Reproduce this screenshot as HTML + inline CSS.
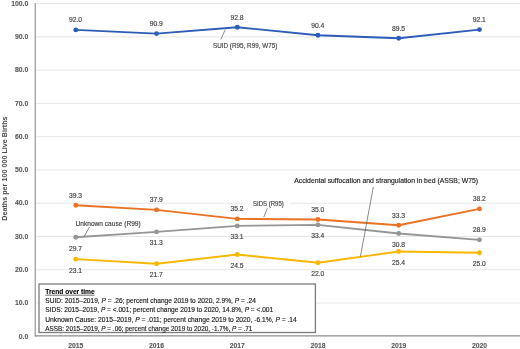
<!DOCTYPE html><html><head><meta charset="utf-8"><style>html,body{margin:0;padding:0;background:#fff;}svg{display:block;will-change:transform}text{font-family:"Liberation Sans",sans-serif}</style></head><body>
<svg width="520" height="349" viewBox="0 0 520 349">
<line x1="36.5" y1="303.03" x2="520" y2="303.03" stroke="#E3E3E3" stroke-width="0.9"/>
<line x1="36.5" y1="269.76" x2="520" y2="269.76" stroke="#E3E3E3" stroke-width="0.9"/>
<line x1="36.5" y1="236.49" x2="520" y2="236.49" stroke="#E3E3E3" stroke-width="0.9"/>
<line x1="36.5" y1="203.22" x2="520" y2="203.22" stroke="#E3E3E3" stroke-width="0.9"/>
<line x1="36.5" y1="169.95" x2="520" y2="169.95" stroke="#E3E3E3" stroke-width="0.9"/>
<line x1="36.5" y1="136.68" x2="520" y2="136.68" stroke="#E3E3E3" stroke-width="0.9"/>
<line x1="36.5" y1="103.41" x2="520" y2="103.41" stroke="#E3E3E3" stroke-width="0.9"/>
<line x1="36.5" y1="70.14" x2="520" y2="70.14" stroke="#E3E3E3" stroke-width="0.9"/>
<line x1="36.5" y1="36.87" x2="520" y2="36.87" stroke="#E3E3E3" stroke-width="0.9"/>
<line x1="36.5" y1="3.60" x2="520" y2="3.60" stroke="#E3E3E3" stroke-width="0.9"/>
<text x="28.3" y="338.50" text-anchor="end" font-size="6.8" font-weight="bold" fill="#595959" stroke="#595959" stroke-width="0.12">0.0</text>
<text x="28.3" y="305.23" text-anchor="end" font-size="6.8" font-weight="bold" fill="#595959" stroke="#595959" stroke-width="0.12">10.0</text>
<text x="28.3" y="271.96" text-anchor="end" font-size="6.8" font-weight="bold" fill="#595959" stroke="#595959" stroke-width="0.12">20.0</text>
<text x="28.3" y="238.69" text-anchor="end" font-size="6.8" font-weight="bold" fill="#595959" stroke="#595959" stroke-width="0.12">30.0</text>
<text x="28.3" y="205.42" text-anchor="end" font-size="6.8" font-weight="bold" fill="#595959" stroke="#595959" stroke-width="0.12">40.0</text>
<text x="28.3" y="172.15" text-anchor="end" font-size="6.8" font-weight="bold" fill="#595959" stroke="#595959" stroke-width="0.12">50.0</text>
<text x="28.3" y="138.88" text-anchor="end" font-size="6.8" font-weight="bold" fill="#595959" stroke="#595959" stroke-width="0.12">60.0</text>
<text x="28.3" y="105.61" text-anchor="end" font-size="6.8" font-weight="bold" fill="#595959" stroke="#595959" stroke-width="0.12">70.0</text>
<text x="28.3" y="72.34" text-anchor="end" font-size="6.8" font-weight="bold" fill="#595959" stroke="#595959" stroke-width="0.12">80.0</text>
<text x="28.3" y="39.07" text-anchor="end" font-size="6.8" font-weight="bold" fill="#595959" stroke="#595959" stroke-width="0.12">90.0</text>
<text x="28.3" y="5.80" text-anchor="end" font-size="6.8" font-weight="bold" fill="#595959" stroke="#595959" stroke-width="0.12">100.0</text>
<line x1="35.2" y1="3" x2="35.2" y2="336.5" stroke="#8C8C8C" stroke-width="1.1"/>
<line x1="35" y1="335.9" x2="520" y2="335.9" stroke="#8C8C8C" stroke-width="1.4"/>
<text x="75.77" y="348" text-anchor="middle" font-size="6.8" font-weight="bold" fill="#595959" stroke="#595959" stroke-width="0.12">2015</text>
<text x="156.51" y="348" text-anchor="middle" font-size="6.8" font-weight="bold" fill="#595959" stroke="#595959" stroke-width="0.12">2016</text>
<text x="237.25" y="348" text-anchor="middle" font-size="6.8" font-weight="bold" fill="#595959" stroke="#595959" stroke-width="0.12">2017</text>
<text x="317.99" y="348" text-anchor="middle" font-size="6.8" font-weight="bold" fill="#595959" stroke="#595959" stroke-width="0.12">2018</text>
<text x="398.73" y="348" text-anchor="middle" font-size="6.8" font-weight="bold" fill="#595959" stroke="#595959" stroke-width="0.12">2019</text>
<text x="479.47" y="348" text-anchor="middle" font-size="6.8" font-weight="bold" fill="#595959" stroke="#595959" stroke-width="0.12">2020</text>
<text transform="translate(6.8,168.6) rotate(-90)" text-anchor="middle" font-size="8.1" font-weight="bold" fill="#4A4A4A" textLength="104.4" lengthAdjust="spacingAndGlyphs">Deaths per 100 000 Live Births</text>
<rect x="39" y="284" width="276.4" height="48.5" fill="#fff" stroke="#7A7A7A" stroke-width="1.3"/>
<polyline points="75.77,29.92 156.51,33.58 237.25,27.25 317.99,35.24 398.73,38.23 479.47,29.58" fill="none" stroke="#2D5CBA" stroke-width="1.9" stroke-linejoin="round"/>
<circle cx="75.77" cy="29.92" r="2.45" fill="#2D5CBA"/>
<circle cx="156.51" cy="33.58" r="2.45" fill="#2D5CBA"/>
<circle cx="237.25" cy="27.25" r="2.45" fill="#2D5CBA"/>
<circle cx="317.99" cy="35.24" r="2.45" fill="#2D5CBA"/>
<circle cx="398.73" cy="38.23" r="2.45" fill="#2D5CBA"/>
<circle cx="479.47" cy="29.58" r="2.45" fill="#2D5CBA"/>
<polyline points="75.77,205.25 156.51,209.91 237.25,218.89 317.99,219.56 398.73,225.21 479.47,208.91" fill="none" stroke="#EC7122" stroke-width="1.9" stroke-linejoin="round"/>
<circle cx="75.77" cy="205.25" r="2.45" fill="#EC7122"/>
<circle cx="156.51" cy="209.91" r="2.45" fill="#EC7122"/>
<circle cx="237.25" cy="218.89" r="2.45" fill="#EC7122"/>
<circle cx="317.99" cy="219.56" r="2.45" fill="#EC7122"/>
<circle cx="398.73" cy="225.21" r="2.45" fill="#EC7122"/>
<circle cx="479.47" cy="208.91" r="2.45" fill="#EC7122"/>
<polyline points="75.77,237.19 156.51,231.86 237.25,225.88 317.99,224.88 398.73,233.53 479.47,239.85" fill="none" stroke="#969696" stroke-width="1.9" stroke-linejoin="round"/>
<circle cx="75.77" cy="237.19" r="2.45" fill="#969696"/>
<circle cx="156.51" cy="231.86" r="2.45" fill="#969696"/>
<circle cx="237.25" cy="225.88" r="2.45" fill="#969696"/>
<circle cx="317.99" cy="224.88" r="2.45" fill="#969696"/>
<circle cx="398.73" cy="233.53" r="2.45" fill="#969696"/>
<circle cx="479.47" cy="239.85" r="2.45" fill="#969696"/>
<polyline points="75.77,259.15 156.51,263.80 237.25,254.49 317.99,262.81 398.73,251.49 479.47,252.82" fill="none" stroke="#F8B700" stroke-width="1.9" stroke-linejoin="round"/>
<circle cx="75.77" cy="259.15" r="2.45" fill="#F8B700"/>
<circle cx="156.51" cy="263.80" r="2.45" fill="#F8B700"/>
<circle cx="237.25" cy="254.49" r="2.45" fill="#F8B700"/>
<circle cx="317.99" cy="262.81" r="2.45" fill="#F8B700"/>
<circle cx="398.73" cy="251.49" r="2.45" fill="#F8B700"/>
<circle cx="479.47" cy="252.82" r="2.45" fill="#F8B700"/>
<text x="75.57" y="22.42" text-anchor="middle" font-size="6.75" fill="#404040" stroke="#404040" stroke-width="0.15">92.0</text>
<text x="156.31" y="26.08" text-anchor="middle" font-size="6.75" fill="#404040" stroke="#404040" stroke-width="0.15">90.9</text>
<text x="237.05" y="19.75" text-anchor="middle" font-size="6.75" fill="#404040" stroke="#404040" stroke-width="0.15">92.8</text>
<text x="317.79" y="27.74" text-anchor="middle" font-size="6.75" fill="#404040" stroke="#404040" stroke-width="0.15">90.4</text>
<text x="398.53" y="30.73" text-anchor="middle" font-size="6.75" fill="#404040" stroke="#404040" stroke-width="0.15">89.5</text>
<text x="479.27" y="22.08" text-anchor="middle" font-size="6.75" fill="#404040" stroke="#404040" stroke-width="0.15">92.1</text>
<text x="75.57" y="197.75" text-anchor="middle" font-size="6.75" fill="#404040" stroke="#404040" stroke-width="0.15">39.3</text>
<text x="156.31" y="202.41" text-anchor="middle" font-size="6.75" fill="#404040" stroke="#404040" stroke-width="0.15">37.9</text>
<text x="237.05" y="211.39" text-anchor="middle" font-size="6.75" fill="#404040" stroke="#404040" stroke-width="0.15">35.2</text>
<text x="317.79" y="212.06" text-anchor="middle" font-size="6.75" fill="#404040" stroke="#404040" stroke-width="0.15">35.0</text>
<text x="398.53" y="217.71" text-anchor="middle" font-size="6.75" fill="#404040" stroke="#404040" stroke-width="0.15">33.3</text>
<text x="479.27" y="201.41" text-anchor="middle" font-size="6.75" fill="#404040" stroke="#404040" stroke-width="0.15">38.2</text>
<text x="75.57" y="250.59" text-anchor="middle" font-size="6.75" fill="#404040" stroke="#404040" stroke-width="0.15">29.7</text>
<text x="156.31" y="245.26" text-anchor="middle" font-size="6.75" fill="#404040" stroke="#404040" stroke-width="0.15">31.3</text>
<text x="237.05" y="239.28" text-anchor="middle" font-size="6.75" fill="#404040" stroke="#404040" stroke-width="0.15">33.1</text>
<text x="317.79" y="238.28" text-anchor="middle" font-size="6.75" fill="#404040" stroke="#404040" stroke-width="0.15">33.4</text>
<text x="398.53" y="246.93" text-anchor="middle" font-size="6.75" fill="#404040" stroke="#404040" stroke-width="0.15">30.8</text>
<text x="479.27" y="232.35" text-anchor="middle" font-size="6.75" fill="#404040" stroke="#404040" stroke-width="0.15">28.9</text>
<text x="75.57" y="272.55" text-anchor="middle" font-size="6.75" fill="#404040" stroke="#404040" stroke-width="0.15">23.1</text>
<text x="156.31" y="277.20" text-anchor="middle" font-size="6.75" fill="#404040" stroke="#404040" stroke-width="0.15">21.7</text>
<text x="237.05" y="267.89" text-anchor="middle" font-size="6.75" fill="#404040" stroke="#404040" stroke-width="0.15">24.5</text>
<text x="317.79" y="276.21" text-anchor="middle" font-size="6.75" fill="#404040" stroke="#404040" stroke-width="0.15">22.0</text>
<text x="398.53" y="264.89" text-anchor="middle" font-size="6.75" fill="#404040" stroke="#404040" stroke-width="0.15">25.4</text>
<text x="479.27" y="266.22" text-anchor="middle" font-size="6.75" fill="#404040" stroke="#404040" stroke-width="0.15">25.0</text>
<line x1="220.8" y1="39.5" x2="225.2" y2="29.6" stroke="#595959" stroke-width="0.7"/>
<line x1="263.8" y1="217" x2="267.3" y2="208.3" stroke="#595959" stroke-width="0.7"/>
<line x1="84.2" y1="236.4" x2="89.6" y2="226.9" stroke="#595959" stroke-width="0.7"/>
<line x1="360.4" y1="256.6" x2="373.3" y2="187" stroke="#595959" stroke-width="0.7"/>
<rect x="243.2" y="198" width="47.1" height="10" fill="#fff"/>
<text x="213" y="48.2" font-size="6.85" fill="#404040" stroke="#404040" stroke-width="0.15" textLength="64.3" lengthAdjust="spacingAndGlyphs" >SUID (R95, R99, W75)</text>
<text x="253" y="205.8" font-size="6.85" fill="#404040" stroke="#404040" stroke-width="0.15" textLength="30.8" lengthAdjust="spacingAndGlyphs" >SIDS (R95)</text>
<text x="75.5" y="225.8" font-size="6.85" fill="#404040" stroke="#404040" stroke-width="0.15" textLength="65.2" lengthAdjust="spacingAndGlyphs" >Unknown cause (R99)</text>
<text x="294.2" y="183.1" font-size="6.85" fill="#1A1A1A" stroke="#1A1A1A" stroke-width="0.15" textLength="183.9" lengthAdjust="spacingAndGlyphs" >Accidental suffocation and strangulation in bed (ASSB; W75)</text>
<text x="45.3" y="293.8" font-size="7" font-weight="bold" fill="#000" textLength="49.4" lengthAdjust="spacingAndGlyphs" stroke="#000" stroke-width="0.12">Trend over time</text>
<line x1="45.3" y1="295.2" x2="94.6" y2="295.2" stroke="#333" stroke-width="0.7"/>
<text x="45.3" y="303.2" font-size="6.9" fill="#1A1A1A" stroke="#1A1A1A" stroke-width="0.15" textLength="210.6" lengthAdjust="spacingAndGlyphs">SUID: 2015–2019, <tspan font-style="italic">P</tspan> = .26; percent change 2019 to 2020, 2.9%, <tspan font-style="italic">P</tspan> = .24</text>
<text x="45.3" y="312.4" font-size="6.9" fill="#1A1A1A" stroke="#1A1A1A" stroke-width="0.15" textLength="227.9" lengthAdjust="spacingAndGlyphs">SIDS: 2015–2019, <tspan font-style="italic">P</tspan> = &lt;.001; percent change 2019 to 2020, 14.8%, <tspan font-style="italic">P</tspan> = &lt;.001</text>
<text x="45.3" y="321.7" font-size="6.9" fill="#1A1A1A" stroke="#1A1A1A" stroke-width="0.15" textLength="251.5" lengthAdjust="spacingAndGlyphs">Unknown Cause: 2015–2019, <tspan font-style="italic">P</tspan> = .011; percent change 2019 to 2020, -6.1%, <tspan font-style="italic">P</tspan> = .14</text>
<text x="45.3" y="330.8" font-size="6.9" fill="#1A1A1A" stroke="#1A1A1A" stroke-width="0.15" textLength="207.1" lengthAdjust="spacingAndGlyphs">ASSB: 2015–2019, <tspan font-style="italic">P</tspan> = .06; percent change 2019 to 2020, -1.7%, <tspan font-style="italic">P</tspan> = .71</text>
</svg></body></html>
